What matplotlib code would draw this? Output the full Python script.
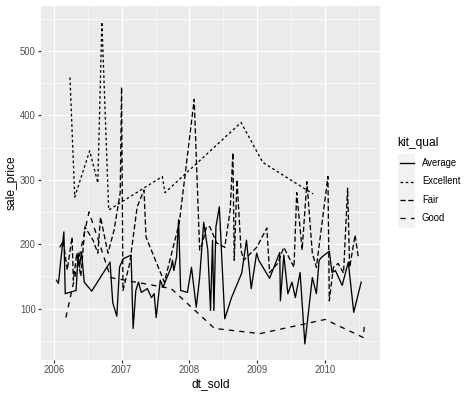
import matplotlib
matplotlib.use("Agg")
import matplotlib.pyplot as plt
from matplotlib.lines import Line2D
from matplotlib.patches import Rectangle

plt.rcParams['font.family'] = ['Liberation Sans', 'DejaVu Sans']

# data (x = decimal year, y = sale price)
avg_x = [2006.04, 2006.07, 2006.11, 2006.15, 2006.17, 2006.33, 2006.36, 2006.38, 2006.41,
         2006.45, 2006.56, 2006.83, 2006.87, 2006.93, 2006.97, 2007.02, 2007.14, 2007.17,
         2007.21, 2007.25, 2007.29, 2007.38, 2007.44, 2007.48, 2007.51, 2007.57, 2007.61,
         2007.73, 2007.75, 2007.77, 2007.81, 2007.84, 2007.87, 2007.97, 2008.03, 2008.10,
         2008.15, 2008.21, 2008.27, 2008.31, 2008.34, 2008.36, 2008.39, 2008.44, 2008.52,
         2008.62, 2008.77, 2008.84, 2008.91, 2008.99, 2009.02, 2009.18, 2009.33, 2009.34,
         2009.39, 2009.45, 2009.51, 2009.56, 2009.63, 2009.70, 2009.81, 2009.87, 2009.91,
         2009.95, 2010.06, 2010.10, 2010.15, 2010.25, 2010.34, 2010.42, 2010.53]
avg_y = [144, 139, 180, 219, 123, 128, 186, 164, 188,
         141, 127, 172, 109, 88, 164, 177, 183, 69,
         128, 141, 125, 131, 117, 123, 86, 144, 133,
         164, 175, 159, 180, 238, 128, 125, 164, 102,
         148, 234, 191, 97, 206, 97, 227, 258, 84,
         117, 155, 206, 131, 186, 175, 147, 187, 112,
         183, 123, 141, 117, 156, 45, 148, 123, 175,
         180, 189, 156, 159, 136, 172, 94, 141]

exc_x = [2006.24, 2006.31, 2006.53, 2006.65, 2006.71, 2006.81, 2007.60, 2007.64,
         2008.76, 2009.08, 2009.82]
exc_y = [459, 273, 345, 295, 545, 253, 305, 280, 389, 327, 278]

fair_x = [2006.09, 2006.14, 2006.20, 2006.27, 2006.29, 2006.34, 2006.40, 2006.46,
          2006.58, 2006.65, 2006.69, 2006.76, 2006.80, 2006.89, 2006.98, 2007.00,
          2007.02, 2007.12, 2007.23, 2007.33, 2007.36, 2007.63, 2007.85, 2008.07,
          2008.15, 2008.19, 2008.25, 2008.30, 2008.40, 2008.52, 2008.60, 2008.64,
          2008.66, 2008.70, 2008.76, 2008.80, 2008.99, 2009.14, 2009.18, 2009.30,
          2009.39, 2009.54, 2009.58, 2009.66, 2009.73, 2009.81, 2009.87, 2010.04,
          2010.06, 2010.12, 2010.19, 2010.27, 2010.33, 2010.36, 2010.44, 2010.49]
fair_y = [195, 205, 160, 211, 144, 186, 150, 227,
          206, 186, 242, 206, 186, 222, 280, 444,
          128, 170, 258, 284, 211, 141, 233, 425,
          191, 201, 227, 227, 202, 195, 253, 342,
          175, 300, 190, 175, 195, 225, 156, 170,
          195, 164, 280, 191, 297, 186, 164, 305,
          112, 164, 170, 155, 287, 164, 214, 178]

good_x = [2006.18, 2006.52, 2006.84, 2007.73, 2008.37, 2009.04, 2010.00, 2010.56, 2010.58]
good_y = [86, 250, 148, 131, 69, 61, 83, 55, 77]

levels = ["Average", "Excellent", "Fair", "Good"]
series = [(avg_x, avg_y), (exc_x, exc_y), (fair_x, fair_y), (good_x, good_y)]
dashes = [None, (2, 2), (4, 2), (4, 4)]

W, H = 474, 395
fig = plt.figure(figsize=(W / 72, H / 72), dpi=72)
ax = fig.add_axes([41 / W, (H - 360) / H, (380 - 41) / W, (360 - 6) / H])
ax.set_facecolor("#EBEBEB")

lw = 1.3
for (xs, ys), d in zip(series, dashes):
    if d is None:
        ax.plot(xs, ys, color="black", lw=lw, solid_joinstyle="round")
    else:
        ax.plot(xs, ys, color="black", lw=lw, dashes=d, dash_capstyle="butt")

allx = avg_x + exc_x + fair_x + good_x
ally = avg_y + exc_y + fair_y + good_y
dx = (max(allx) - min(allx)) * 0.05
dy = (max(ally) - min(ally)) * 0.05
ax.set_xlim(min(allx) - dx, max(allx) + dx)
ax.set_ylim(min(ally) - dy, max(ally) + dy)

ax.set_xticks([2006, 2007, 2008, 2009, 2010])
ax.set_xticks([2006.5, 2007.5, 2008.5, 2009.5, 2010.5], minor=True)
ax.set_yticks([100, 200, 300, 400, 500])
ax.set_yticks([50, 150, 250, 350, 450, 550], minor=True)
ax.grid(True, which="major", color="white", lw=1.2)
ax.grid(True, which="minor", color="white", lw=0.6)
ax.set_axisbelow(True)
for s in ax.spines.values():
    s.set_visible(False)
ax.tick_params(which="major", length=3, width=1.2, color="#333333",
               labelsize=9.5, labelcolor="#4D4D4D", pad=2.4)
ax.tick_params(which="minor", length=0)
ax.set_xlabel("dt_sold", fontsize=12, labelpad=2.5)
ax.set_ylabel("sale_price", fontsize=12, labelpad=2.5)

# legend drawn by hand, ggplot style
fig.text(397 / W, 1 - 143 / H, "kit_qual", fontsize=12, va="center", ha="left")
key_w, key_h = 17.3, 18.5
for i, (lab, d) in enumerate(zip(levels, dashes)):
    yc = 163 + i * key_h
    fig.patches.append(Rectangle((398 / W, 1 - (yc + key_h / 2) / H), key_w / W, key_h / H,
                                 transform=fig.transFigure, facecolor="#F2F2F2",
                                 edgecolor="none"))
    ln = Line2D([(398 + 1.7) / W, (398 + key_w - 1.7) / W], [1 - yc / H, 1 - yc / H],
                transform=fig.transFigure, color="black", lw=lw)
    if d is not None:
        ln.set_dashes(d)
    fig.lines.append(ln)
    fig.text(422 / W, 1 - yc / H, lab, fontsize=9.5, va="center", ha="left")

fig.savefig("out.png", dpi=72)
